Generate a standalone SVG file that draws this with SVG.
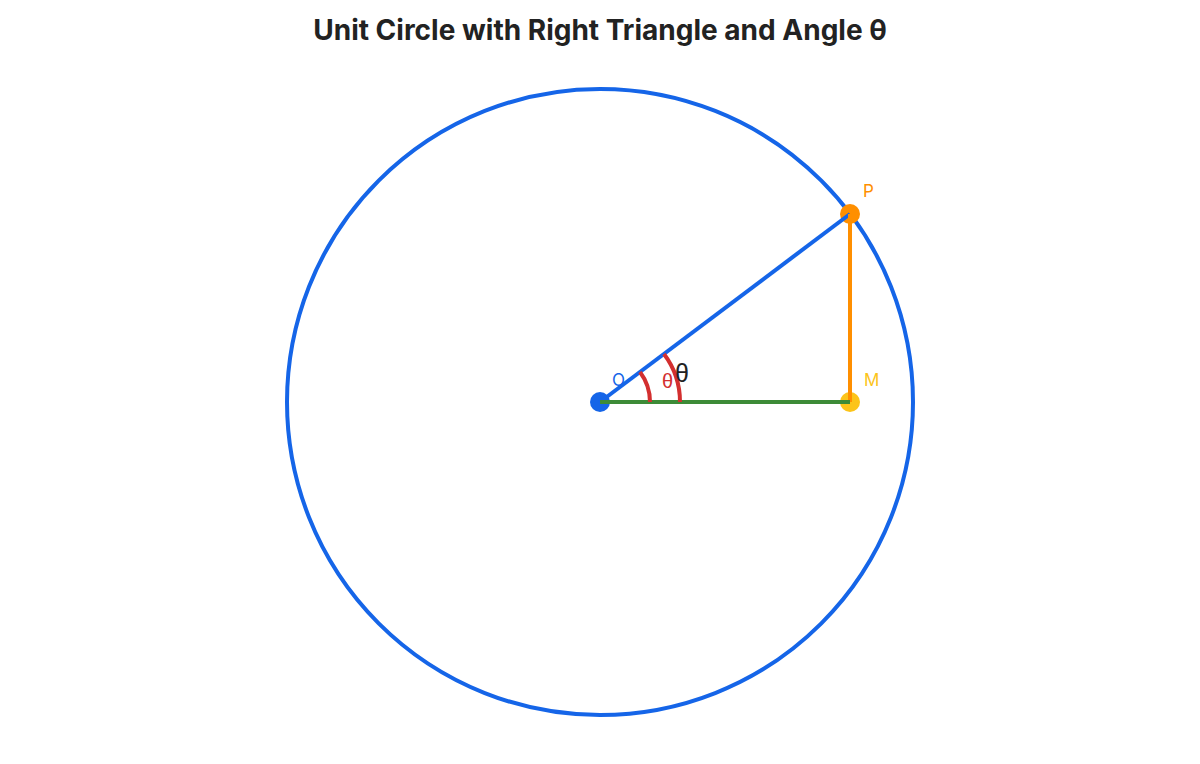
<svg xmlns="http://www.w3.org/2000/svg" width="1200" height="764" viewBox="0 0 1200 764">
<style>
.title{font-family:"Inter","Liberation Sans",sans-serif;font-weight:700;font-size:28px;fill:#222}
.lbl{font-family:"Inter","Liberation Sans",sans-serif;font-size:17px}
.th{font-family:"Liberation Sans",sans-serif}
.seg{stroke-width:4;fill:none;stroke-linecap:butt}
.arc{stroke:#d32f2f;stroke-width:4;fill:none}
</style>
<rect width="1200" height="764" fill="#fff"/>
<text class="title" x="600" y="40" text-anchor="middle">Unit Circle with Right Triangle and Angle θ</text>
<g id="unit-circle">
<circle cx="600" cy="402" r="313" fill="none" stroke="#1565e8" stroke-width="4"/>
</g>
<g id="point-O">
<circle cx="600" cy="402" r="10" fill="#1565e8"/>
<text class="lbl" x="612" y="386" fill="#1565e8">O</text>
</g>
<g id="point-P">
<circle cx="850" cy="214" r="10" fill="#ff8f00"/>
<text class="lbl" x="863" y="197" fill="#ff8f00">P</text>
</g>
<g id="point-M">
<circle cx="850" cy="402" r="10" fill="#fcc419"/>
<text class="lbl" x="864" y="386" fill="#fcc419">M</text>
</g>
<g id="connectors">
<line class="seg" x1="600" y1="402" x2="850" y2="214" stroke="#1565e8"/>
<line class="seg" x1="850" y1="214" x2="850" y2="402" stroke="#ff8f00"/>
<line class="seg" x1="600" y1="402" x2="850" y2="402" stroke="#3d8b37"/>
</g>
<g id="angle-theta">
<path class="arc" d="M650 402 A50 50 0 0 0 640 372"/>
<path class="arc" d="M680 402 A80 80 0 0 0 664 354"/>
<text class="th" x="662" y="388" fill="#d32f2f" font-size="20">θ</text>
<text class="th" x="675" y="382" fill="#222" font-size="25">θ</text>
</g>
</svg>
